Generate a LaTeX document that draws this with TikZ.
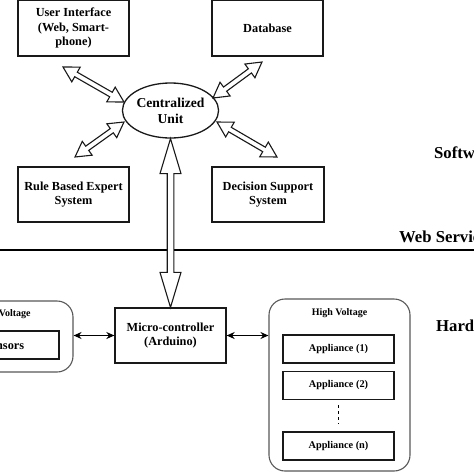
\documentclass[tikz,border=0pt]{standalone}
\usepackage{fontspec}
\setmainfont{Liberation Serif}
\usetikzlibrary{arrows.meta,calc,shapes.geometric}

\newcommand\hollowarr[5]{%
  \path let \p1=(#1), \p2=(#2), \n1={atan2(\y2-\y1,\x2-\x1)}, \n2={veclen(\x2-\x1,\y2-\y1)} in
  [hollowstyle, shift={(\p1)}, rotate=\n1]
  (0,0) -- (#5,#4) -- (#5,#3) -- (\n2-#5,#3) -- (\n2-#5,#4) -- (\n2,0)
  -- (\n2-#5,-#4) -- (\n2-#5,-#3) -- (#5,-#3) -- (#5,-#4) -- cycle;
}

\tikzset{
  hollowstyle/.style={draw=black!90, fill=white, line width=1.1pt, line join=miter},
  box/.style={draw=black!90, line width=1.3pt, minimum width=111pt, minimum height=55pt,
    inner sep=0pt, align=center, font=\bfseries\fontsize{12.3}{14.5}\selectfont},
  smallbox/.style={draw=black!90, line width=1.3pt, minimum width=111pt, minimum height=28pt,
    inner sep=0pt, align=center, font=\bfseries\fontsize{10.3}{12}\selectfont},
  container/.style={draw=black!65, line width=1.1pt, rounded corners=16pt, inner sep=0pt},
  smalllabel/.style={font=\bfseries\fontsize{10}{12}\selectfont, inner sep=0pt},
  layerlabel/.style={font=\bfseries\fontsize{16.7}{19}\selectfont, inner sep=0pt, anchor=base west},
  linkarrow/.style={line width=1.4pt, {Stealth[length=8pt,width=7pt]}-{Stealth[length=8pt,width=7pt]}},
}

\begin{document}
\begin{tikzpicture}[x=1pt, y=-1pt]
\useasboundingbox (0,0) rectangle (474,474);
\clip (0,0) rectangle (474,474);
\fill[white] (0,0) rectangle (474,474);

% software boxes
\node[box, minimum height=56pt] (ui) at (73.5,28) {User Interface\\(Web, Smart-\\phone)};
\node[box, minimum height=56pt] (db) at (267.5,28) {Database};
\node[box] (rb) at (73.5,194.5) {Rule Based Expert\\System};
\node[box, minimum width=112pt] (dss) at (268,194.5) {Decision Support\\System};
\node[draw=black!90, line width=1.3pt, ellipse, minimum width=83pt, minimum height=55pt, inner sep=0pt,
  align=center, font=\bfseries\fontsize{13.6}{16}\selectfont] (cu) at (170.5,110.5) {Centralized\\Unit};

% hardware
\node[box] (mc) at (170.5,335.5) {Micro-controller\\(Arduino)};
\node[container, minimum width=138pt, minimum height=71pt] (lv) at (4,336.5) {};
\node[smalllabel] (lvl) at (4,314) {Low Voltage};
\node[box, minimum width=110pt, minimum height=28pt] (sens) at (4,345) {Sensors};

\node[container, minimum width=141pt, minimum height=172pt] (hv) at (339.5,385) {};
\node[smalllabel] (hvl) at (339.5,313) {High Voltage};
\node[smallbox] (a1) at (338.5,349) {Appliance (1)};
\node[smallbox] (a2) at (338.5,385.5) {Appliance (2)};
\node[smallbox] (an) at (338.5,446) {Appliance (n)};
\draw[line width=1.1pt, dash pattern=on 3pt off 3pt, shorten <=5pt, shorten >=7pt] (a2) -- (an);

% web services line
\coordinate (wl) at (0,250);
\coordinate (wr) at (474,250);
\draw[line width=1.6pt] (wl) -- (wr);

% layer labels
\node[layerlabel] (sw) at (434,158) {Software};
\node[layerlabel] (ws) at (399,242) {Web Services};
\node[layerlabel] (hw) at (436,331) {Hardware};

% hollow arrows
\coordinate (p1) at (63,67);   \coordinate (q1) at (124,102);
\coordinate (p2) at (213,98);  \coordinate (q2) at (262,62);
\coordinate (p3) at (124,122); \coordinate (q3) at (75,157);
\coordinate (p4) at (217,122); \coordinate (q4) at (277,157);
\hollowarr{p1}{q1}{2.6}{8.5}{15}
\hollowarr{p2}{q2}{2.6}{8.5}{15}
\hollowarr{p3}{q3}{2.6}{8.5}{15}
\hollowarr{p4}{q4}{2.6}{8.5}{15}
\hollowarr{cu.south}{mc.north}{3.3}{10.5}{35}

% link arrows
\draw[linkarrow] (mc.west -| lv.east) -- (mc.west);
\draw[linkarrow] (mc.east) -- (mc.east -| hv.west);
\end{tikzpicture}
\end{document}
